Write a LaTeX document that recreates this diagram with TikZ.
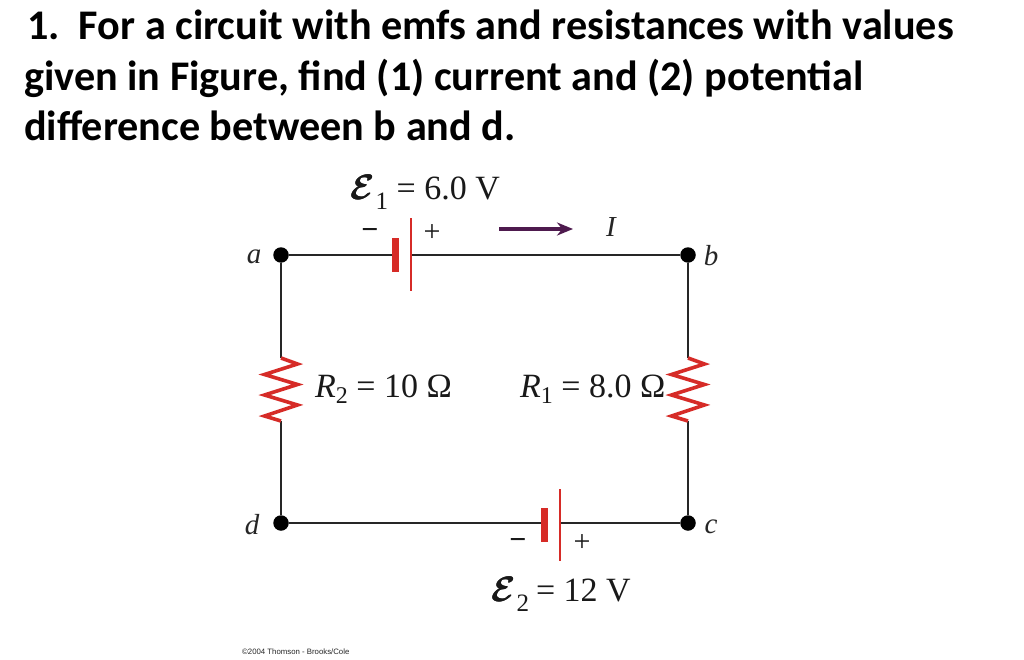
\documentclass[tikz,border=0pt]{standalone}
\usepackage{fontspec}
\usepackage{amsmath}
\setmainfont{Liberation Serif}
\newfontfamily\titlefont{Carlito}
\newfontfamily\smallfont{Liberation Sans}
\usetikzlibrary{arrows.meta}
\definecolor{plate}{HTML}{D62B27}
\definecolor{arrowpurple}{HTML}{4E1A4E}
\definecolor{wirecol}{HTML}{262626}
\newcommand{\EmfE}{\fontsize{24}{24}\selectfont\boldmath$\mathcal{E}$}
\newcommand{\Emf}[1]{\scalebox{1.42}{\rlap{\hspace{.3pt}\EmfE}\EmfE}\hspace{1pt}\raisebox{-10pt}{\fontsize{25}{25}\selectfont #1}}
\newcommand{\Res}[1]{\textit{R}\raisebox{-6pt}{\fontsize{24}{24}\selectfont #1}}
\tikzset{
  x=1pt,y=-1pt,
  wire/.style={draw=wirecol,line width=1.9pt},
  zig/.style={draw=plate,line width=3.6pt,line join=miter},
  dot/.style={circle,fill=black,inner sep=0pt,minimum size=15.5pt},
  thickplate/.style={rectangle,fill=plate,inner sep=0pt,minimum width=7pt},
  thinplate/.style={rectangle,fill=plate,inner sep=0pt,minimum width=2pt},
  title/.style={anchor=base west,inner sep=0pt,font=\titlefont\bfseries\fontsize{42.2}{42.2}\selectfont,text=black},
  lab/.style={inner sep=0pt,font=\fontsize{34}{34}\selectfont,text=black!90},
  letter/.style={inner sep=0pt,font=\itshape\fontsize{29}{29}\selectfont,text=black!85},
  sign/.style={inner sep=0pt,font=\fontsize{30}{30}\selectfont,text=black!90},
  minus/.style={inner sep=0pt,font=\bfseries\fontsize{30}{30}\selectfont,text=black!90},
  current/.style={draw=arrowpurple,line width=3.6pt,-{Stealth[length=16pt,width=13pt]}}
}
\begin{document}
\begin{tikzpicture}
\useasboundingbox (0,0) rectangle (1024,660);
\fill[white] (0,0) rectangle (1024,660);
% title
\node[title] (t1) at (27,40) {1.\ \ For a circuit with emfs and resistances with values};
\node[title] (t2) at (24,91) {given in Figure, find (1) current and (2) potential};
\node[title] (t3) at (24,141) {difference between b and d.};
% terminals
\node[dot] (a) at (281,255) {};
\node[dot] (b) at (688,255) {};
\node[dot] (c) at (688,523) {};
\node[dot] (d) at (281,523) {};
% batteries
\node[thickplate,minimum height=34pt] (e1n) at (395.5,254.5) {};
\node[thinplate,minimum height=73pt] (e1p) at (411,254.5) {};
\node[thickplate,minimum height=34pt] (e2n) at (544.5,525) {};
\node[thinplate,minimum height=72pt] (e2p) at (560,525) {};
% resistor ends
\coordinate (r2t) at (281,358);
\coordinate (r2b) at (281,421);
\coordinate (r1t) at (688,358);
\coordinate (r1b) at (688,421);
% wires
\draw[wire] (a) -- (e1n.west |- a);
\draw[wire] (e1p.east |- a) -- (b);
\draw[wire] (d) -- (e2n.west |- d);
\draw[wire] (e2p.east |- d) -- (c);
\draw[wire] (a) -- (r2t);
\draw[wire] (r2b) -- (d);
\draw[wire] (b) -- (r1t);
\draw[wire] (r1b) -- (c);
% resistors
\draw[zig] (r2t) -- ++(16.5,6) -- ++(-33,10.5) -- ++(33,10) -- ++(-33,10.5) -- ++(33,10) -- ++(-33,11) -- (r2b);
\draw[zig] (r1t) -- ++(16.5,6) -- ++(-33,10.5) -- ++(33,10) -- ++(-33,10.5) -- ++(33,10) -- ++(-33,11) -- (r1b);
% current arrow
\coordinate (i0) at (499,229);
\coordinate (i1) at (573,229);
\draw[current] (i0) -- (i1);
% labels
\node[letter] (la) at (254,257) {a};
\node[letter] (lb) at (711,256) {b};
\node[letter] (lc) at (711,527) {c};
\node[letter] (ld) at (252,525) {d};
\node[letter] (li) at (611,227) {I};
\node[minus] (m1) at (370,234) {−};
\node[sign] (p1) at (432,233) {+};
\node[minus] (m2) at (518,544) {−};
\node[sign] (p2) at (582,543) {+};
\node[lab,anchor=base west] (e1) at (350,200) {\Emf{1} = 6.0 V};
\node[lab,anchor=base west] (e2) at (491,601) {\Emf{2}\hspace{-1.5pt} = 12 V};
\node[lab,anchor=base west] (r2) at (315,397) {\Res{2} = 10 Ω};
\node[lab,anchor=base west] (r1) at (520,397) {\Res{1} = 8.0 Ω};
\node[inner sep=0pt,anchor=base west,font=\smallfont\fontsize{7.8}{7.8}\selectfont,text=black!85] (cr) at (242,654) {©2004 Thomson - Brooks/Cole};
\end{tikzpicture}
\end{document}
